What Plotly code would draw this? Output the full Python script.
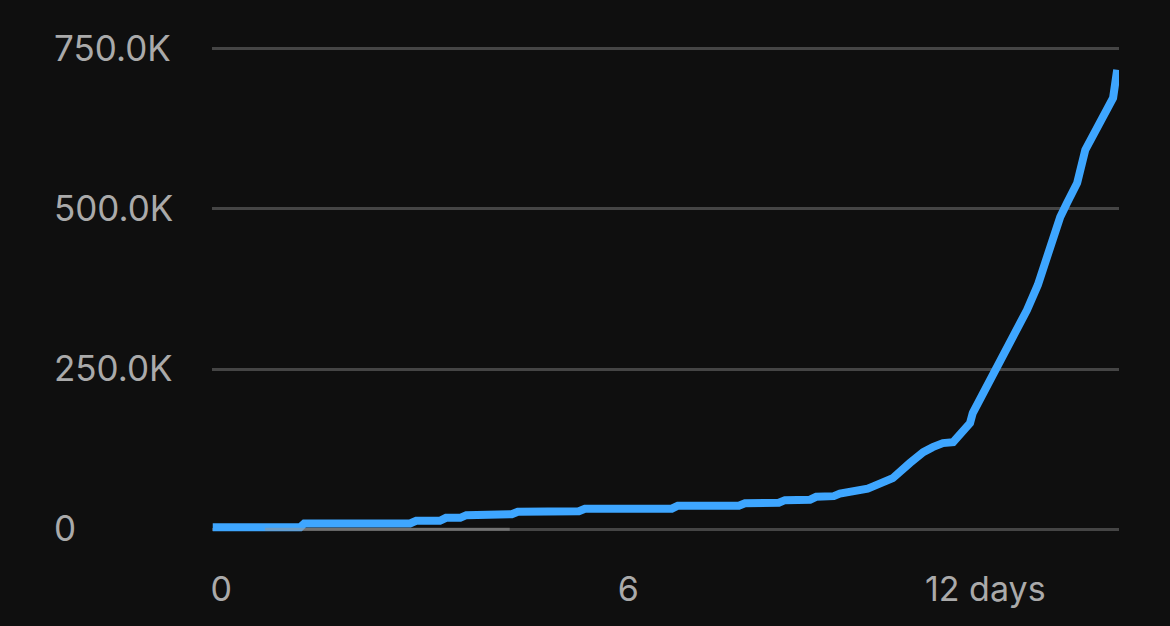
import plotly.graph_objects as go

# Cumulative views over time (days since publish)
days = [-0.24, 1.05, 1.11, 2.67, 2.76, 3.11, 3.20, 3.41, 3.50, 4.17, 4.26, 5.16, 5.25,
        6.53, 6.62, 7.52, 7.61, 8.11, 8.20, 8.57, 8.66, 8.92, 9.01, 9.17, 9.26, 9.42,
        9.51, 9.60, 9.79, 10.04, 10.24, 10.38, 10.53, 10.68, 10.78, 10.93, 10.97,
        11.25, 11.42, 11.56, 11.77, 11.93, 12.06, 12.15, 12.26, 12.36, 12.51, 12.63,
        12.82, 13.04, 13.10]
views = [3100, 3100, 8900, 8900, 13000, 13000, 17700, 17700, 21900, 23400, 27300, 28100, 32000,
         32000, 36700, 36700, 40600, 41400, 45300, 46100, 50500, 51600, 55500, 57800, 60900, 63300,
         67200, 71900, 79700, 103100, 120300, 128100, 134400, 135900, 146900, 165600, 181300,
         237500, 275000, 298400, 342200, 381300, 420300, 456300, 487500, 509400, 540600, 592200,
         631300, 673400, 717200]

# Typical-performance baseline segment
typical_days = [0.53, 4.14]
typical_views = [0, 0]

x_tickvals = [0, 6, 12]
x_ticktext = ["0", "6", "12 days"]
y_tickvals = [0, 250000, 500000, 750000]
y_ticktext = ["0", "250.0K", "500.0K", "750.0K"]

BG = "#0f0f0f"
GRID = "#454545"
TEXT = "#aaaaaa"
BLUE = "#3ea6ff"

fig = go.Figure()
fig.add_trace(go.Scatter(x=days, y=views, mode="lines",
                         line=dict(color=BLUE, width=8), hoverinfo="skip"))
fig.add_trace(go.Scatter(x=typical_days, y=typical_views, mode="lines",
                         line=dict(color="rgba(150,150,150,0.55)", width=3), hoverinfo="skip"))

W, H = 1170, 626
ml, mr, mt, mb = 50, 51, 20, 68
plot_left = 212
dom0 = (plot_left - ml) / (W - ml - mr)

fig.update_layout(
    width=W, height=H,
    paper_bgcolor=BG, plot_bgcolor=BG,
    margin=dict(l=ml, r=mr, t=mt, b=mb),
    showlegend=False,
    font=dict(family="Inter, Roboto, sans-serif", size=34, color=TEXT),
    xaxis=dict(domain=[dom0, 1], range=[-0.251, 13.127],
               tickmode="array", tickvals=x_tickvals, ticktext=x_ticktext,
               ticklabelposition="outside left", ticks="", ticklen=0,
               showgrid=False, zeroline=False, showline=False,
               tickfont=dict(size=34, color=TEXT), ticklabelstandoff=8,
               ticklabelshift=3),
    yaxis=dict(anchor="free", position=0, range=[-45000, 795000],
               tickmode="array", tickvals=y_tickvals, ticktext=y_ticktext,
               ticklabelposition="inside", ticks="",
               showgrid=True, gridcolor=GRID, gridwidth=3,
               zeroline=False, showline=False,
               tickfont=dict(size=35, color=TEXT)),
)

fig.write_html("out.html",
               config={"displayModeBar": False},
               post_script="document.body.style.margin='0';document.body.style.background='#0f0f0f';")
